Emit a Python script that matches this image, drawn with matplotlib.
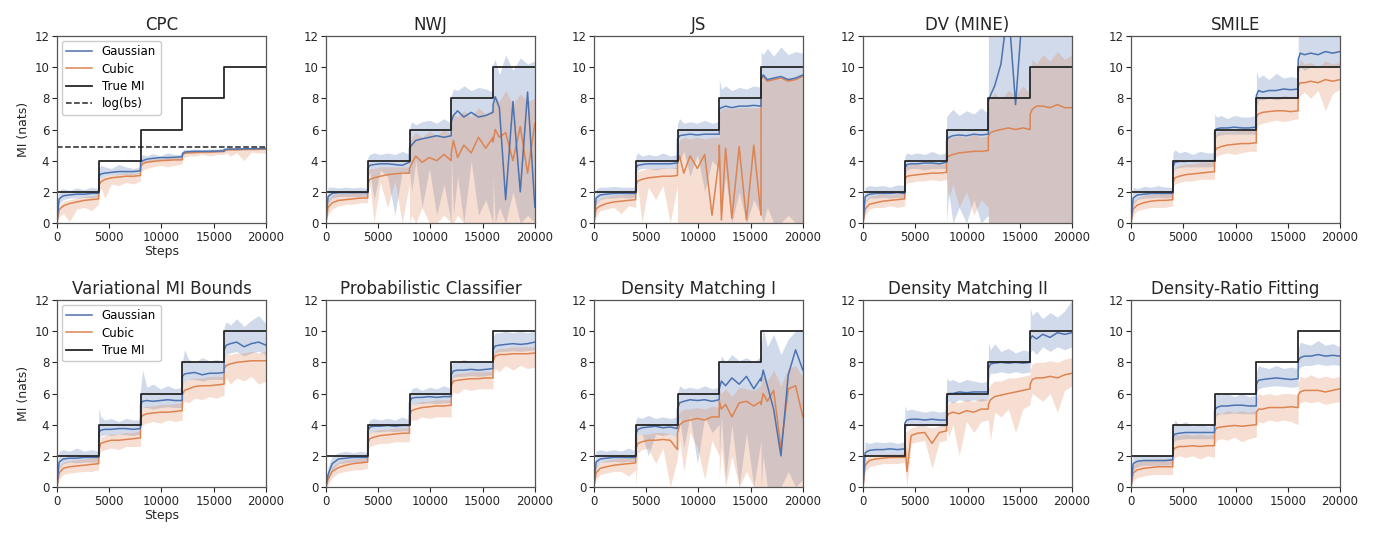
import matplotlib
matplotlib.use("Agg")
import matplotlib.pyplot as plt

plt.rcParams['font.family'] = ['DejaVu Sans']

# ---------------- data ----------------
STEPS = [0, 200, 600, 1200, 1900, 2600, 3300, 3990,
         4000, 4200, 4600, 5200, 5900, 6600, 7300, 7990,
         8000, 8200, 8600, 9200, 9900, 10600, 11300, 11990,
         12000, 12200, 12600, 13200, 13900, 14600, 15300, 15990,
         16000, 16200, 16600, 17200, 17900, 18600, 19300, 20000]

TRUE_STEPS = [0, 4000, 8000, 12000, 16000, 20000]
TRUE_MI = [2, 4, 6, 8, 10, 10]
LOG_BS = 4.85

TITLES = ["CPC", "NWJ", "JS", "DV (MINE)", "SMILE",
          "Variational MI Bounds", "Probabilistic Classifier",
          "Density Matching I", "Density Matching II", "Density-Ratio Fitting"]
SERIES = ["Gaussian", "Cubic", "True MI"]

# CPC
CPC_G = [0.0,1.55,1.75,1.8,1.85,1.85,1.9,1.9, 3.0,3.15,3.2,3.25,3.3,3.3,3.3,3.35, 3.9,4.0,4.1,4.15,4.2,4.2,4.22,4.25, 4.45,4.55,4.58,4.6,4.6,4.6,4.62,4.62, 4.7,4.74,4.75,4.75,4.76,4.77,4.78,4.78]
CPC_G_HI = [0.4,2.1,2.2,2.1,2.25,2.15,2.3,2.2, 3.5,3.7,3.6,3.5,3.75,3.6,3.5,3.6, 4.2,4.4,4.3,4.45,4.3,4.5,4.4,4.4, 4.6,4.75,4.7,4.75,4.7,4.75,4.75,4.8, 4.8,4.82,4.83,4.83,4.83,4.84,4.84,4.84]
CPC_G_LO = [0.0,1.2,1.5,1.6,1.6,1.65,1.6,1.7, 2.7,2.9,3.0,3.1,3.1,3.1,3.1,3.2, 3.6,3.85,3.95,4.0,4.05,4.05,4.1,4.1, 4.3,4.45,4.5,4.5,4.5,4.5,4.55,4.55, 4.6,4.65,4.68,4.68,4.7,4.7,4.7,4.72]
CPC_C = [0.0,0.85,1.1,1.25,1.35,1.45,1.5,1.55, 2.4,2.65,2.8,2.9,2.95,3.0,3.0,3.05, 3.6,3.8,3.9,3.95,4.0,4.02,4.05,4.05, 4.35,4.48,4.5,4.52,4.55,4.55,4.57,4.6, 4.62,4.68,4.7,4.7,4.72,4.72,4.73,4.75]
CPC_C_HI = [0.2,1.1,1.4,1.5,1.6,1.7,1.75,1.8, 2.6,2.9,3.0,3.1,3.15,3.2,3.2,3.25, 3.8,4.0,4.05,4.1,4.15,4.2,4.2,4.2, 4.5,4.6,4.6,4.65,4.65,4.68,4.7,4.7, 4.72,4.78,4.8,4.8,4.8,4.82,4.82,4.82]
CPC_C_LO = [0.0,0.4,0.6,0.1,0.9,1.0,0.8,1.2, 2.0,2.2,1.6,2.5,2.4,2.6,2.5,2.7, 3.2,3.4,3.5,3.6,3.7,3.6,3.7,3.8, 4.1,4.2,4.3,4.3,4.4,4.3,4.4,4.4, 4.4,4.5,4.3,4.5,4.0,4.55,4.5,4.5]

# NWJ
NWJ_G = [0.0,1.7,1.9,1.95,1.95,1.95,1.95,1.95, 3.5,3.7,3.75,3.8,3.8,3.75,3.7,3.9, 4.8,5.0,5.3,5.4,5.5,5.6,5.5,5.6, 6.5,6.9,7.2,6.8,7.1,6.8,6.9,7.1, 7.6,8.1,7.4,1.5,7.8,2.0,8.4,1.0]
NWJ_G_HI = [0.5,2.3,2.3,2.25,2.3,2.25,2.3,2.2, 4.2,4.4,4.5,4.4,4.5,4.4,4.6,4.4, 6.0,6.5,6.3,6.5,6.6,6.4,6.7,6.4, 8.2,8.6,8.5,8.8,8.5,8.7,8.6,8.4, 10.2,10.5,9.5,10.8,9.8,10.6,10.2,10.4]
NWJ_G_LO = [0.0,1.3,1.6,1.7,1.7,1.7,1.7,1.7, 2.8,3.3,1.5,3.4,3.0,0.5,3.3,3.2, 3.5,2.0,4.0,1.0,3.5,0.5,2.5,0.0, 4.5,0.5,3.0,0.0,4.0,0.5,1.5,0.0, 3.0,0.0,1.0,0.0,2.0,0.0,0.5,0.0]
NWJ_C = [0.0,1.0,1.3,1.45,1.5,1.55,1.6,1.6, 2.5,2.8,2.9,3.0,3.1,3.15,3.2,3.2, 3.5,3.8,4.3,3.9,4.2,4.0,4.4,4.0, 4.5,5.3,4.2,5.0,4.5,5.5,4.8,5.5, 5.2,6.0,5.5,5.8,4.0,6.2,3.2,6.4]
NWJ_C_HI = [0.3,1.5,1.8,1.9,1.9,1.95,1.9,1.95, 3.2,3.5,3.5,3.6,3.6,3.6,3.6,3.6, 5.0,5.5,5.8,5.5,5.9,5.6,6.0,5.7, 6.5,7.0,6.8,7.2,6.8,7.4,7.0,7.3, 7.5,8.2,7.8,8.5,7.6,8.3,7.8,8.0]
NWJ_C_LO = [0.0,0.5,0.9,1.1,1.2,1.2,1.3,1.3, 1.5,2.5,0.0,2.6,1.0,2.7,0.0,2.5, 0.0,0.5,0.0,1.0,0.0,0.0,0.5,0.0, 0.0,0.0,0.5,0.0,0.0,0.0,0.0,0.0, 0.0,0.0,0.0,0.0,0.0,0.0,0.0,0.0]

# JS
JS_G = [0.0,1.6,1.8,1.85,1.9,1.9,1.9,1.9, 3.5,3.7,3.75,3.8,3.8,3.8,3.8,3.85, 5.4,5.6,5.65,5.7,5.65,5.7,5.7,5.7, 7.3,7.4,7.5,7.4,7.5,7.5,7.55,7.5, 9.3,9.5,9.2,9.3,9.4,9.2,9.3,9.5]
JS_G_HI = [0.4,2.2,2.3,2.3,2.35,2.3,2.3,2.3, 4.3,4.5,4.3,4.4,4.3,4.5,4.3,4.4, 6.4,6.7,6.4,6.5,6.4,6.6,6.4,6.5, 9.2,8.6,8.8,8.5,8.7,8.6,8.8,8.7, 11.0,10.8,11.2,10.7,11.3,10.8,11.0,10.9]
JS_G_LO = [0.0,1.2,1.5,1.6,1.6,1.65,1.6,1.65, 3.0,3.4,3.5,3.5,3.4,3.5,3.5,3.5, 4.5,4.0,4.6,3.0,4.4,2.0,4.0,3.5, 2.0,0.5,3.0,0.0,2.0,0.0,1.5,0.5, 0.5,0.0,1.0,0.0,0.0,0.5,0.0,0.0]
JS_C = [0.0,0.9,1.1,1.25,1.35,1.4,1.45,1.5, 2.4,2.7,2.8,2.9,2.95,3.0,3.0,3.05, 3.8,4.3,3.2,4.3,3.5,4.4,0.5,4.2, 5.0,0.2,4.8,0.3,4.9,0.2,5.0,0.5, 9.2,9.4,9.1,9.2,9.3,9.1,9.2,9.4]
JS_C_HI = [0.3,1.3,1.6,1.7,1.8,1.8,1.85,1.9, 3.0,3.3,3.4,3.5,3.5,3.55,3.5,3.6, 4.8,5.3,5.5,5.4,5.5,5.4,5.5,5.5, 7.0,7.3,7.4,7.3,7.4,7.4,7.4,7.4, 9.0,9.3,9.2,9.3,9.2,9.3,9.2,9.3]
JS_C_LO = [0.0,0.4,0.8,0.9,1.0,0.6,1.1,1.0, 1.8,2.2,0.0,2.3,1.5,2.4,0.0,2.4, 0.0,0.0,0.0,0.0,0.0,0.0,0.0,0.0, 0.0,0.0,0.0,0.0,0.0,0.0,0.0,0.0, 0.0,0.0,0.0,0.0,0.0,0.0,0.0,0.0]

# DV (MINE)
DV_G = [0.0,1.7,1.85,1.9,1.9,1.9,1.95,1.9, 3.5,3.75,3.8,3.8,3.85,3.85,3.8,3.9, 5.3,5.5,5.6,5.65,5.6,5.7,5.65,5.7, 7.8,8.2,8.8,10.2,14.0,7.6,14.0,15.0, 15.0,15.0,15.0,15.0,15.0,15.0,15.0,15.0]
DV_G_HI = [0.4,2.3,2.4,2.35,2.4,2.3,2.45,2.4, 4.3,4.5,4.4,4.5,4.4,4.6,4.4,4.5, 6.8,7.0,7.3,6.9,7.2,7.0,7.4,7.0, 14.0,14.0,14.0,14.0,14.0,14.0,14.0,14.0, 14.0,14.0,14.0,14.0,14.0,14.0,14.0,14.0]
DV_G_LO = [0.0,1.3,1.6,1.6,1.65,1.6,1.65,1.6, 3.0,3.4,3.5,3.5,3.4,3.5,3.5,3.5, 0.0,2.0,0.0,1.0,0.0,1.5,0.0,0.5, 0.0,0.0,0.0,0.0,0.0,0.0,0.0,0.0, 0.0,0.0,0.0,0.0,0.0,0.0,0.0,0.0]
DV_C = [0.0,0.9,1.2,1.3,1.4,1.45,1.5,1.55, 2.8,3.0,3.05,3.1,3.15,3.2,3.2,3.25, 4.1,4.3,4.4,4.5,4.55,4.6,4.6,4.65, 5.6,5.8,5.9,6.0,6.1,6.0,6.1,6.0, 7.0,7.3,7.5,7.5,7.4,7.6,7.4,7.4]
DV_C_HI = [0.3,1.4,1.7,1.8,1.85,1.8,1.9,1.9, 3.4,3.7,3.8,3.8,3.75,3.8,3.8,3.8, 5.3,5.6,5.5,5.6,5.5,5.7,5.5,5.6, 7.5,8.0,8.4,7.9,8.5,8.2,8.8,8.3, 9.5,10.5,10.2,10.8,10.4,11.0,10.5,10.8]
DV_C_LO = [0.0,0.5,0.9,1.0,1.0,1.1,1.0,1.1, 2.3,2.6,2.6,2.7,2.7,2.8,2.7,2.8, 3.0,1.5,2.5,1.0,2.0,0.5,1.5,1.0, 0.0,0.0,0.0,0.0,0.0,0.0,0.0,0.0, 0.0,0.0,0.0,0.0,0.0,0.0,0.0,0.0]

# SMILE
SM_G = [0.0,1.6,1.8,1.85,1.9,1.9,1.9,1.9, 3.6,3.9,3.95,3.95,4.0,4.0,4.0,4.0, 5.9,6.05,6.1,6.1,6.15,6.1,6.1,6.15, 8.2,8.5,8.4,8.5,8.5,8.6,8.55,8.6, 10.5,10.9,10.8,10.9,10.8,11.0,10.9,11.0]
SM_G_HI = [0.4,2.3,2.2,2.35,2.3,2.4,2.3,2.3, 4.5,4.7,4.5,4.6,4.4,4.6,4.5,4.5, 7.0,6.8,6.9,6.7,6.9,6.8,6.8,6.9, 9.7,9.3,9.5,9.2,9.6,9.3,9.4,9.3, 12.2,12.1,12.3,12.1,12.2,12.3,12.1,12.2]
SM_G_LO = [0.0,1.2,1.5,1.6,1.6,1.65,1.6,1.65, 3.1,3.5,3.55,3.6,3.6,3.6,3.6,3.65, 5.3,5.6,5.65,5.7,5.7,5.7,5.7,5.7, 7.5,7.9,7.9,8.0,7.9,8.0,8.0,8.0, 9.6,10.0,9.8,10.0,10.0,10.1,10.0,10.1]
SM_C = [0.0,0.9,1.15,1.3,1.4,1.45,1.45,1.5, 2.6,2.9,3.0,3.1,3.15,3.2,3.25,3.3, 4.6,4.8,4.9,5.0,5.05,5.1,5.1,5.15, 6.8,7.0,7.1,7.15,7.2,7.2,7.15,7.2, 8.8,9.0,9.0,9.1,9.0,9.2,9.1,9.2]
SM_C_HI = [0.3,1.4,1.6,1.8,1.85,1.9,1.9,1.95, 3.2,3.6,3.7,3.8,3.8,3.9,3.9,3.9, 5.5,5.8,5.9,5.9,5.9,6.0,6.0,6.0, 7.8,8.0,8.0,8.1,8.0,8.2,8.1,8.1, 9.8,10.5,10.2,10.3,10.0,10.4,10.2,10.3]
SM_C_LO = [0.0,0.5,0.8,0.9,1.0,1.0,1.0,1.1, 2.2,2.5,2.6,2.7,2.7,2.8,2.8,2.8, 4.1,4.3,4.4,4.5,4.4,4.5,4.6,4.6, 5.9,6.3,6.4,6.5,6.6,6.5,6.6,6.7, 7.8,8.2,8.4,8.0,8.5,7.2,8.3,8.6]

# Variational MI Bounds
VMB_G = [0.0,1.6,1.8,1.85,1.85,1.9,1.9,1.9, 3.5,3.65,3.7,3.7,3.75,3.75,3.7,3.75, 5.3,5.5,5.55,5.5,5.55,5.6,5.55,5.55, 7.1,7.25,7.3,7.35,7.2,7.3,7.3,7.35, 8.8,9.1,9.2,9.3,9.0,9.2,9.3,9.1]
VMB_G_HI = [0.4,2.3,2.4,2.3,2.5,2.3,2.4,2.3, 5.1,4.5,4.3,4.4,4.2,4.4,4.3,4.3, 6.3,7.5,6.4,6.6,6.3,6.5,6.3,6.4, 8.0,8.8,8.2,8.0,8.3,8.1,8.2,8.0, 10.3,10.6,10.4,10.8,10.3,10.7,11.0,10.5]
VMB_G_LO = [0.0,1.2,1.5,1.6,1.55,1.6,1.6,1.6, 3.0,3.3,3.35,3.3,3.4,3.35,3.3,3.4, 4.8,5.1,5.1,5.0,5.1,5.15,5.1,5.1, 6.5,6.8,6.9,6.9,6.8,6.9,6.9,6.9, 8.2,8.5,8.6,8.7,8.4,8.6,8.7,8.5]
VMB_C = [0.0,0.9,1.2,1.3,1.35,1.4,1.45,1.5, 2.4,2.8,2.9,3.0,3.0,3.05,3.1,3.15, 4.4,4.6,4.7,4.75,4.8,4.8,4.85,4.9, 5.9,6.2,6.3,6.45,6.5,6.5,6.55,6.6, 7.6,7.8,7.9,8.0,8.05,8.1,8.1,8.1]
VMB_C_HI = [0.3,1.3,1.6,1.7,1.75,1.8,1.85,1.9, 2.9,3.2,3.3,3.4,3.4,3.5,3.5,3.6, 4.9,5.1,5.2,5.2,5.3,5.3,5.35,5.4, 6.5,6.8,6.9,7.0,7.0,7.1,7.1,7.1, 8.3,8.5,8.5,8.6,8.6,8.7,8.6,8.7]
VMB_C_LO = [0.0,0.5,0.8,0.9,0.95,1.0,1.0,1.1, 1.9,2.3,2.4,2.5,2.4,2.6,2.6,2.6, 3.8,4.0,4.1,4.2,4.1,4.3,4.2,4.3, 5.2,5.5,5.4,5.7,5.6,5.8,5.7,5.9, 6.5,7.0,6.6,7.0,6.8,7.1,6.6,6.8]

# Probabilistic Classifier
PC_G = [0.0,0.8,1.5,1.8,1.85,1.9,1.9,1.9, 3.6,3.85,3.9,3.9,3.95,3.9,3.95,3.95, 5.4,5.7,5.75,5.75,5.8,5.75,5.8,5.8, 7.2,7.45,7.5,7.5,7.55,7.5,7.55,7.6, 8.8,9.05,9.1,9.15,9.2,9.15,9.2,9.3]
PC_G_HI = [0.2,1.3,2.0,2.2,2.3,2.2,2.3,2.2, 4.0,4.3,4.4,4.3,4.4,4.3,4.5,4.3, 5.9,6.3,6.4,6.2,6.4,6.3,6.5,6.3, 7.8,8.1,8.0,8.2,8.0,8.1,8.0,8.1, 9.6,9.9,9.9,10.0,9.9,10.0,9.9,10.0]
PC_G_LO = [0.0,0.4,1.1,1.5,1.55,1.6,1.6,1.6, 3.2,3.5,3.55,3.55,3.6,3.55,3.6,3.6, 5.0,5.3,5.35,5.35,5.4,5.35,5.4,5.4, 6.8,7.05,7.1,7.1,7.15,7.1,7.15,7.2, 8.3,8.6,8.7,8.7,8.75,8.7,8.75,8.8]
PC_C = [0.0,0.5,1.0,1.25,1.4,1.5,1.55,1.6, 2.8,3.1,3.2,3.3,3.35,3.4,3.45,3.45, 4.6,4.9,5.0,5.1,5.15,5.2,5.2,5.25, 6.5,6.8,6.85,6.9,6.95,6.95,7.0,7.0, 8.1,8.4,8.5,8.5,8.55,8.55,8.55,8.6]
PC_C_HI = [0.2,0.8,1.3,1.6,1.75,1.8,1.85,1.9, 3.2,3.5,3.6,3.7,3.7,3.8,3.8,3.8, 5.0,5.3,5.4,5.5,5.5,5.6,5.6,5.6, 6.9,7.2,7.3,7.3,7.4,7.4,7.4,7.4, 8.5,8.8,8.9,8.9,9.0,9.0,9.0,9.0]
PC_C_LO = [0.0,0.1,0.6,0.9,1.0,1.1,1.1,1.2, 2.3,2.6,2.7,2.8,2.8,2.9,2.9,2.9, 4.0,4.3,4.3,4.5,4.4,4.5,4.5,4.5, 5.8,6.1,6.0,6.3,6.2,6.3,6.3,6.3, 7.3,7.6,7.4,7.8,7.5,7.8,7.6,7.7]

# Density Matching I
DM1_G = [0.0,1.6,1.8,1.85,1.9,1.9,1.9,1.9, 3.4,3.7,3.8,3.85,3.9,3.8,3.85,3.75, 5.0,5.4,5.5,5.6,5.55,5.6,5.5,5.6, 6.3,6.8,6.5,7.0,6.6,7.1,6.3,7.0, 6.8,7.5,6.5,5.0,2.0,7.2,8.8,7.5]
DM1_G_HI = [0.4,2.3,2.4,2.3,2.4,2.3,2.5,2.3, 4.3,4.5,4.4,4.6,4.4,4.5,4.4,4.5, 6.0,6.5,6.3,6.4,6.3,6.5,6.3,6.4, 7.8,8.4,8.0,8.5,8.1,8.3,8.0,8.4, 9.0,10.2,9.0,9.8,8.5,9.5,10.0,10.0]
DM1_G_LO = [0.0,1.2,1.6,1.6,1.65,1.6,1.65,1.6, 2.5,3.3,3.4,2.0,3.4,3.3,3.4,3.2, 3.5,4.5,2.5,4.6,1.5,4.5,3.5,4.0, 2.0,4.5,0.5,4.0,0.0,3.5,0.0,3.0, 0.0,2.0,0.0,0.0,0.0,1.0,0.0,0.5]
DM1_C = [0.0,0.9,1.2,1.3,1.4,1.45,1.5,1.55, 2.4,2.8,2.9,3.0,3.0,3.05,3.0,2.4, 3.5,4.0,4.2,4.3,4.4,4.3,4.5,4.5, 5.5,5.0,5.3,4.5,5.4,5.5,5.2,5.5, 5.3,6.0,5.5,6.2,2.5,6.3,6.5,4.5]
DM1_C_HI = [0.3,1.3,1.6,1.7,1.8,1.85,1.9,1.9, 2.9,3.3,3.4,3.4,3.5,3.5,3.4,3.2, 4.5,4.8,5.0,5.0,5.1,5.0,5.2,5.1, 6.2,6.0,6.3,5.8,6.4,6.3,6.2,6.5, 6.5,7.2,6.8,7.5,6.5,7.6,7.8,7.0]
DM1_C_LO = [0.0,0.5,0.8,0.9,1.0,1.0,0.7,1.1, 0.0,2.2,2.4,2.5,1.5,2.5,0.0,1.8, 2.0,3.0,1.0,3.5,2.5,0.5,3.0,2.0, 0.5,2.5,0.0,2.0,0.0,1.0,0.0,0.0, 0.0,0.0,0.0,0.0,0.0,0.0,0.0,0.0]

# Density Matching II
DM2_G = [0.0,2.2,2.35,2.4,2.4,2.45,2.4,2.45, 4.1,4.3,4.35,4.35,4.3,4.35,4.3,4.3, 5.8,6.0,6.0,6.1,6.05,6.1,6.1,6.1, 7.6,7.9,7.95,8.0,7.95,8.0,7.95,8.0, 9.5,9.7,9.5,9.8,9.6,9.9,9.8,9.9]
DM2_G_HI = [0.5,2.9,2.8,2.9,2.85,2.9,2.8,2.9, 5.2,4.9,5.0,4.9,4.8,4.9,4.8,4.9, 7.0,6.8,6.9,6.7,6.9,6.8,6.7,6.8, 9.3,8.8,9.2,8.7,8.9,8.6,8.8,8.7, 11.5,11.0,11.3,10.8,11.2,10.9,11.3,12.0]
DM2_G_LO = [0.0,1.9,2.0,2.1,2.0,2.1,2.0,2.1, 3.6,3.9,4.0,3.9,3.9,4.0,3.9,3.9, 5.2,5.5,5.4,5.6,5.5,5.6,5.5,5.6, 6.9,7.3,7.3,7.4,7.3,7.4,7.3,7.4, 8.6,8.8,8.5,9.0,8.7,9.0,8.8,9.0]
DM2_C = [0.0,1.4,1.7,1.8,1.85,1.9,1.9,1.9, 3.0,1.0,3.3,3.45,3.5,2.8,3.5,3.6, 4.5,4.7,4.8,4.7,4.9,4.8,5.0,5.0, 5.3,5.6,5.8,5.9,6.0,6.1,6.2,6.3, 6.6,6.9,7.0,7.0,7.1,7.0,7.2,7.3]
DM2_C_HI = [0.3,1.8,2.0,2.1,2.1,2.15,2.1,2.2, 3.5,3.6,3.8,3.9,3.9,3.8,3.9,4.0, 5.2,5.4,5.5,5.4,5.6,5.5,5.7,5.6, 6.3,6.6,6.8,6.8,7.0,7.0,7.1,7.2, 7.5,7.9,8.0,8.0,8.1,8.0,8.2,8.3]
DM2_C_LO = [0.0,1.0,1.3,1.4,1.5,1.5,1.5,1.6, 1.5,0.0,2.8,2.9,3.0,1.2,2.9,3.0, 3.8,3.2,4.0,2.0,4.2,3.5,4.2,4.3, 4.3,3.0,4.8,4.5,5.0,3.5,5.0,5.3, 5.5,6.0,5.8,5.5,6.0,4.8,6.2,6.5]

# Density-Ratio Fitting
DRF_G = [0.0,1.5,1.65,1.7,1.7,1.7,1.7,1.75, 3.2,3.4,3.45,3.5,3.5,3.5,3.5,3.5, 4.9,5.1,5.2,5.2,5.25,5.25,5.2,5.2, 6.6,6.85,6.9,6.95,7.0,6.95,6.9,6.95, 8.1,8.3,8.4,8.4,8.5,8.4,8.45,8.4]
DRF_G_HI = [0.3,2.0,2.1,2.0,2.1,2.0,2.1,2.0, 3.8,4.3,4.0,4.2,3.9,4.1,3.9,4.0, 5.6,6.1,5.9,6.0,5.8,6.0,5.8,5.9, 7.4,7.8,7.7,7.6,7.8,7.6,7.7,7.6, 8.9,9.3,9.2,9.1,9.4,9.1,9.2,9.0]
DRF_G_LO = [0.0,1.1,1.3,1.4,1.4,1.4,1.4,1.45, 2.7,3.0,3.05,3.1,3.1,3.1,3.1,3.1, 4.4,4.6,4.7,4.7,4.75,4.7,4.7,4.7, 6.1,6.3,6.4,6.45,6.5,6.45,6.4,6.45, 7.5,7.7,7.8,7.8,7.9,7.8,7.85,7.8]
DRF_C = [0.0,0.9,1.1,1.2,1.25,1.3,1.3,1.3, 2.3,2.5,2.6,2.6,2.65,2.6,2.65,2.65, 3.6,3.8,3.85,3.9,3.95,3.9,3.95,4.0, 4.8,5.0,5.0,5.1,5.1,5.1,5.15,5.1, 5.9,6.1,6.2,6.2,6.2,6.1,6.2,6.3]
DRF_C_HI = [0.3,1.4,1.6,1.7,1.75,1.8,1.8,1.8, 3.0,3.4,3.3,3.4,3.3,3.4,3.3,3.4, 4.5,4.8,4.7,4.9,4.8,4.9,4.8,4.9, 5.7,6.0,5.9,6.0,5.9,6.0,6.0,5.9, 6.7,7.1,7.0,7.2,7.0,7.1,7.0,7.1]
DRF_C_LO = [0.0,0.4,0.6,0.7,0.8,0.8,0.8,0.8, 1.6,1.9,2.0,1.9,2.0,1.8,2.0,1.9, 2.8,3.0,3.1,3.0,3.2,2.9,3.1,3.2, 3.9,4.2,4.1,4.3,4.2,4.3,4.2,4.0, 5.2,5.4,5.5,5.4,5.5,5.3,5.4,5.5]

PANELS = [
    (CPC_G, CPC_G_LO, CPC_G_HI, CPC_C, CPC_C_LO, CPC_C_HI),
    (NWJ_G, NWJ_G_LO, NWJ_G_HI, NWJ_C, NWJ_C_LO, NWJ_C_HI),
    (JS_G, JS_G_LO, JS_G_HI, JS_C, JS_C_LO, JS_C_HI),
    (DV_G, DV_G_LO, DV_G_HI, DV_C, DV_C_LO, DV_C_HI),
    (SM_G, SM_G_LO, SM_G_HI, SM_C, SM_C_LO, SM_C_HI),
    (VMB_G, VMB_G_LO, VMB_G_HI, VMB_C, VMB_C_LO, VMB_C_HI),
    (PC_G, PC_G_LO, PC_G_HI, PC_C, PC_C_LO, PC_C_HI),
    (DM1_G, DM1_G_LO, DM1_G_HI, DM1_C, DM1_C_LO, DM1_C_HI),
    (DM2_G, DM2_G_LO, DM2_G_HI, DM2_C, DM2_C_LO, DM2_C_HI),
    (DRF_G, DRF_G_LO, DRF_G_HI, DRF_C, DRF_C_LO, DRF_C_HI),
]

# ---------------- style ----------------
BLUE = "#4C72B0"
ORANGE = "#DD8452"
BLACK = "#262626"
SPINE = "#555555"
TXT = "#262626"

fig = plt.figure(figsize=(13.8, 5.43), dpi=100)

lefts = [0.0413, 0.2362, 0.4304, 0.6254, 0.8196]
bottoms = [0.5893, 0.1031]
W, H = 0.1514, 0.3444

for i, (title, data) in enumerate(zip(TITLES, PANELS)):
    r, c = divmod(i, 5)
    ax = fig.add_axes([lefts[c], bottoms[r], W, H])
    g, glo, ghi, cu, clo, chi = data
    ax.fill_between(STEPS, glo, ghi, color=BLUE, alpha=0.26, linewidth=0)
    ax.fill_between(STEPS, clo, chi, color=ORANGE, alpha=0.26, linewidth=0)
    ax.plot(STEPS, cu, color=ORANGE, lw=1.1, label=SERIES[1])
    ax.plot(STEPS, g, color=BLUE, lw=1.1, label=SERIES[0])
    ax.step(TRUE_STEPS, TRUE_MI, where="post", color=BLACK, lw=1.3, label=SERIES[2])
    if i == 0:
        ax.axhline(LOG_BS, color=BLACK, lw=1.1, ls="--", label="log(bs)")
    ax.set_xlim(0, 20000)
    ax.set_ylim(0, 12)
    ax.set_xticks([0, 5000, 10000, 15000, 20000])
    ax.set_yticks([0, 2, 4, 6, 8, 10, 12])
    ax.set_title(title, fontsize=12, color=TXT, pad=4)
    ax.tick_params(labelsize=8.5, colors=TXT, length=3.5, width=0.8, pad=2)
    for s in ax.spines.values():
        s.set_color(SPINE)
        s.set_linewidth(0.9)
    if c == 0:
        ax.set_ylabel("MI (nats)", fontsize=9, color=TXT, labelpad=3)
        ax.set_xlabel("Steps", fontsize=9, color=TXT, labelpad=1)
        handles, labels = ax.get_legend_handles_labels()
        order = [labels.index(n) for n in (SERIES + (["log(bs)"] if i == 0 else []))]
        ax.legend([handles[k] for k in order], [labels[k] for k in order],
                  loc="upper left", fontsize=8.5, frameon=True, framealpha=1,
                  edgecolor="#cccccc", borderaxespad=0.4, handlelength=2.2,
                  labelspacing=0.35, borderpad=0.4)

fig.savefig("out.png", dpi=100)
